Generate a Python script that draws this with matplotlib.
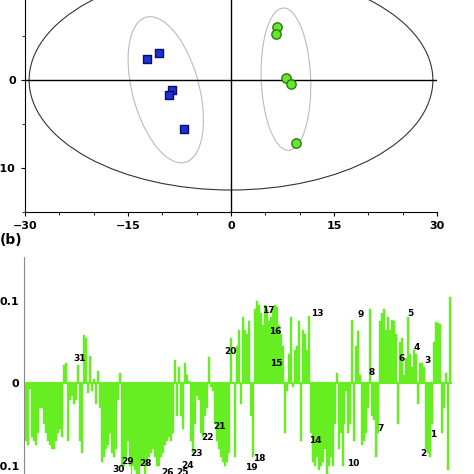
import matplotlib
matplotlib.use("Agg")
import matplotlib.pyplot as plt
import numpy as np
from matplotlib.patches import Ellipse

sq_x = [-12.3, -10.5, -8.6, -9.0, -6.9]
sq_y = [2.4, 3.1, -1.1, -1.7, -5.6]
ci_x = [6.7, 6.5, 8.0, 8.7, 9.4]
ci_y = [6.0, 5.2, 0.2, -0.5, -7.2]

loadings = [-0.07,-0.075,-0.007,-0.065,-0.07,-0.075,-0.06,-0.03,
 -0.03,-0.05,-0.06,-0.07,-0.075,-0.08,-0.08,-0.07,-0.06,-0.055,-0.065,
 0.022,0.025,-0.07,-0.02,-0.015,-0.025,-0.02,0.022,-0.07,-0.085,
 0.058,0.055,-0.012,0.033,-0.01,0.005,-0.025,0.015,
 -0.03,-0.095,-0.09,-0.08,-0.075,-0.06,-0.085,-0.09,-0.08,-0.02,0.012,
 -0.1,-0.1,-0.09,-0.07,-0.1,-0.11,-0.1,-0.105,-0.11,-0.11,-0.1,-0.095,-0.11,-0.1,-0.09,-0.085,-0.08,-0.09,-0.1,-0.1,-0.09,-0.085,-0.075,-0.07,-0.065,-0.07,-0.06,
 0.028,-0.04,0.02,-0.04,-0.055,0.024,0.01,0.003,-0.07,-0.085,-0.05,-0.015,-0.02,-0.06,-0.065,-0.04,-0.03,0.032,
 -0.005,-0.01,-0.05,-0.07,-0.08,-0.09,-0.095,-0.1,-0.095,-0.085,
 0.055,0.0,-0.09,0.045,0.065,-0.025,0.08,0.065,0.06,0.075,-0.04,-0.09,
 0.09,0.1,0.095,0.085,0.07,0.095,0.09,0.075,0.08,0.09,0.095,0.092,0.07,0.06,0.045,
 -0.06,-0.01,0.035,0.08,-0.004,0.04,0.045,0.075,-0.07,0.065,0.06,0.04,0.082,
 -0.06,-0.095,-0.1,-0.09,-0.105,-0.1,-0.095,-0.08,-0.11,-0.1,-0.09,-0.1,-0.05,0.012,
 -0.08,-0.06,-0.1,-0.05,-0.01,-0.06,-0.05,
 0.077,-0.07,0.045,0.063,0.01,-0.075,-0.07,-0.06,-0.03,0.09,-0.04,-0.045,-0.09,-0.06,
 0.075,0.085,0.09,0.065,0.08,0.065,0.077,0.075,0.06,
 -0.05,0.05,0.055,0.01,0.03,0.08,0.035,0.02,0.04,0.035,-0.025,0.025,0.025,0.02,
 -0.08,-0.085,-0.09,-0.05,0.05,0.074,0.073,0.072,-0.06,-0.03,0.012,-0.105,0.105]

labels = ['31','29','30','28','26','25','24','23','22','21','20','19','18','17','16','15','13','14','10','9','8','7','6','5','4','3','2','1']
lab_zx = [235,380,352,435,500,545,560,588,620,655,690,752,775,802,825,827,950,943,1058,1082,1115,1140,1205,1230,1248,1282,1268,1297]
lab_v = [0.03,-0.095,-0.105,-0.097,-0.108,-0.108,-0.1,-0.085,-0.066,-0.053,0.038,-0.102,-0.091,0.088,0.063,0.024,0.085,-0.07,-0.097,0.083,0.013,-0.055,0.03,0.085,0.043,0.027,-0.085,-0.062]

fig = plt.figure(figsize=(4.74, 4.74), dpi=100)

ax1 = fig.add_axes([25/474, 262/474, 412/474, 212/474])
ax1.set_xlim(-30, 30)
ax1.set_ylim(-15, 9.1)
ax1.add_patch(Ellipse((0, 0), 58.8, 25, fill=False, color='#333333', lw=0.8))
ax1.add_patch(Ellipse((-9.5, -1.1), 9.5, 17.5, angle=22, fill=False, color='#bbbbbb', lw=0.8))
ax1.add_patch(Ellipse((8.0, 0.1), 7.2, 16.2, angle=3, fill=False, color='#bbbbbb', lw=0.8))
ax1.axhline(0, color='black', lw=1)
ax1.axvline(0, color='black', lw=1)
ax1.scatter(sq_x, sq_y, marker='s', s=40, color='#1c2fd8', edgecolor='#0a1060', zorder=3)
ax1.scatter(ci_x, ci_y, marker='o', s=45, color='#66e62e', edgecolor='#2a7a10', zorder=3)
for s in ['top', 'right']:
    ax1.spines[s].set_visible(False)
ax1.set_xticks([-30, -15, 0, 15, 30])
ax1.set_xticks(np.arange(-30, 31, 5), minor=True)
ax1.set_yticks([-10, 0])
ax1.set_yticks([-15, -5, 5], minor=True)
ax1.tick_params(labelsize=8, length=3, width=0.8)
for t in ax1.get_xticklabels() + ax1.get_yticklabels():
    t.set_fontweight('bold')

N = len(loadings)
ax2 = fig.add_axes([24/474, 0, 428/474, 217/474])
ax2.bar(np.arange(N), loadings, width=1.0, color='#66ee22', edgecolor='#66ee22', lw=0.3)
ax2.axhline(0, color='#66ee22', lw=1.5)
ax2.set_xlim(-1, N)
ax2.set_ylim(-0.11, 0.153)
for s in ['top', 'right', 'bottom']:
    ax2.spines[s].set_visible(False)
ax2.spines['left'].set_color('#888888')
ax2.set_xticks([])
ax2.set_yticks([-0.1, 0, 0.1])
ax2.set_yticklabels(['-0.1', '0', '0.1'])
ax2.tick_params(axis='y', length=0, labelsize=8)
for t in ax2.get_yticklabels():
    t.set_fontweight('bold')
for lab, zx, v in zip(labels, lab_zx, lab_v):
    xi = (zx - 75) / (1355 - 75) * N
    ax2.text(xi, v, lab, fontsize=6.5, fontweight='bold', ha='center', va='center')
fig.text(0.0, 1 - 240/474, '(b)', fontsize=10, fontweight='bold', va='center')

fig.savefig('out.png', dpi=100)
